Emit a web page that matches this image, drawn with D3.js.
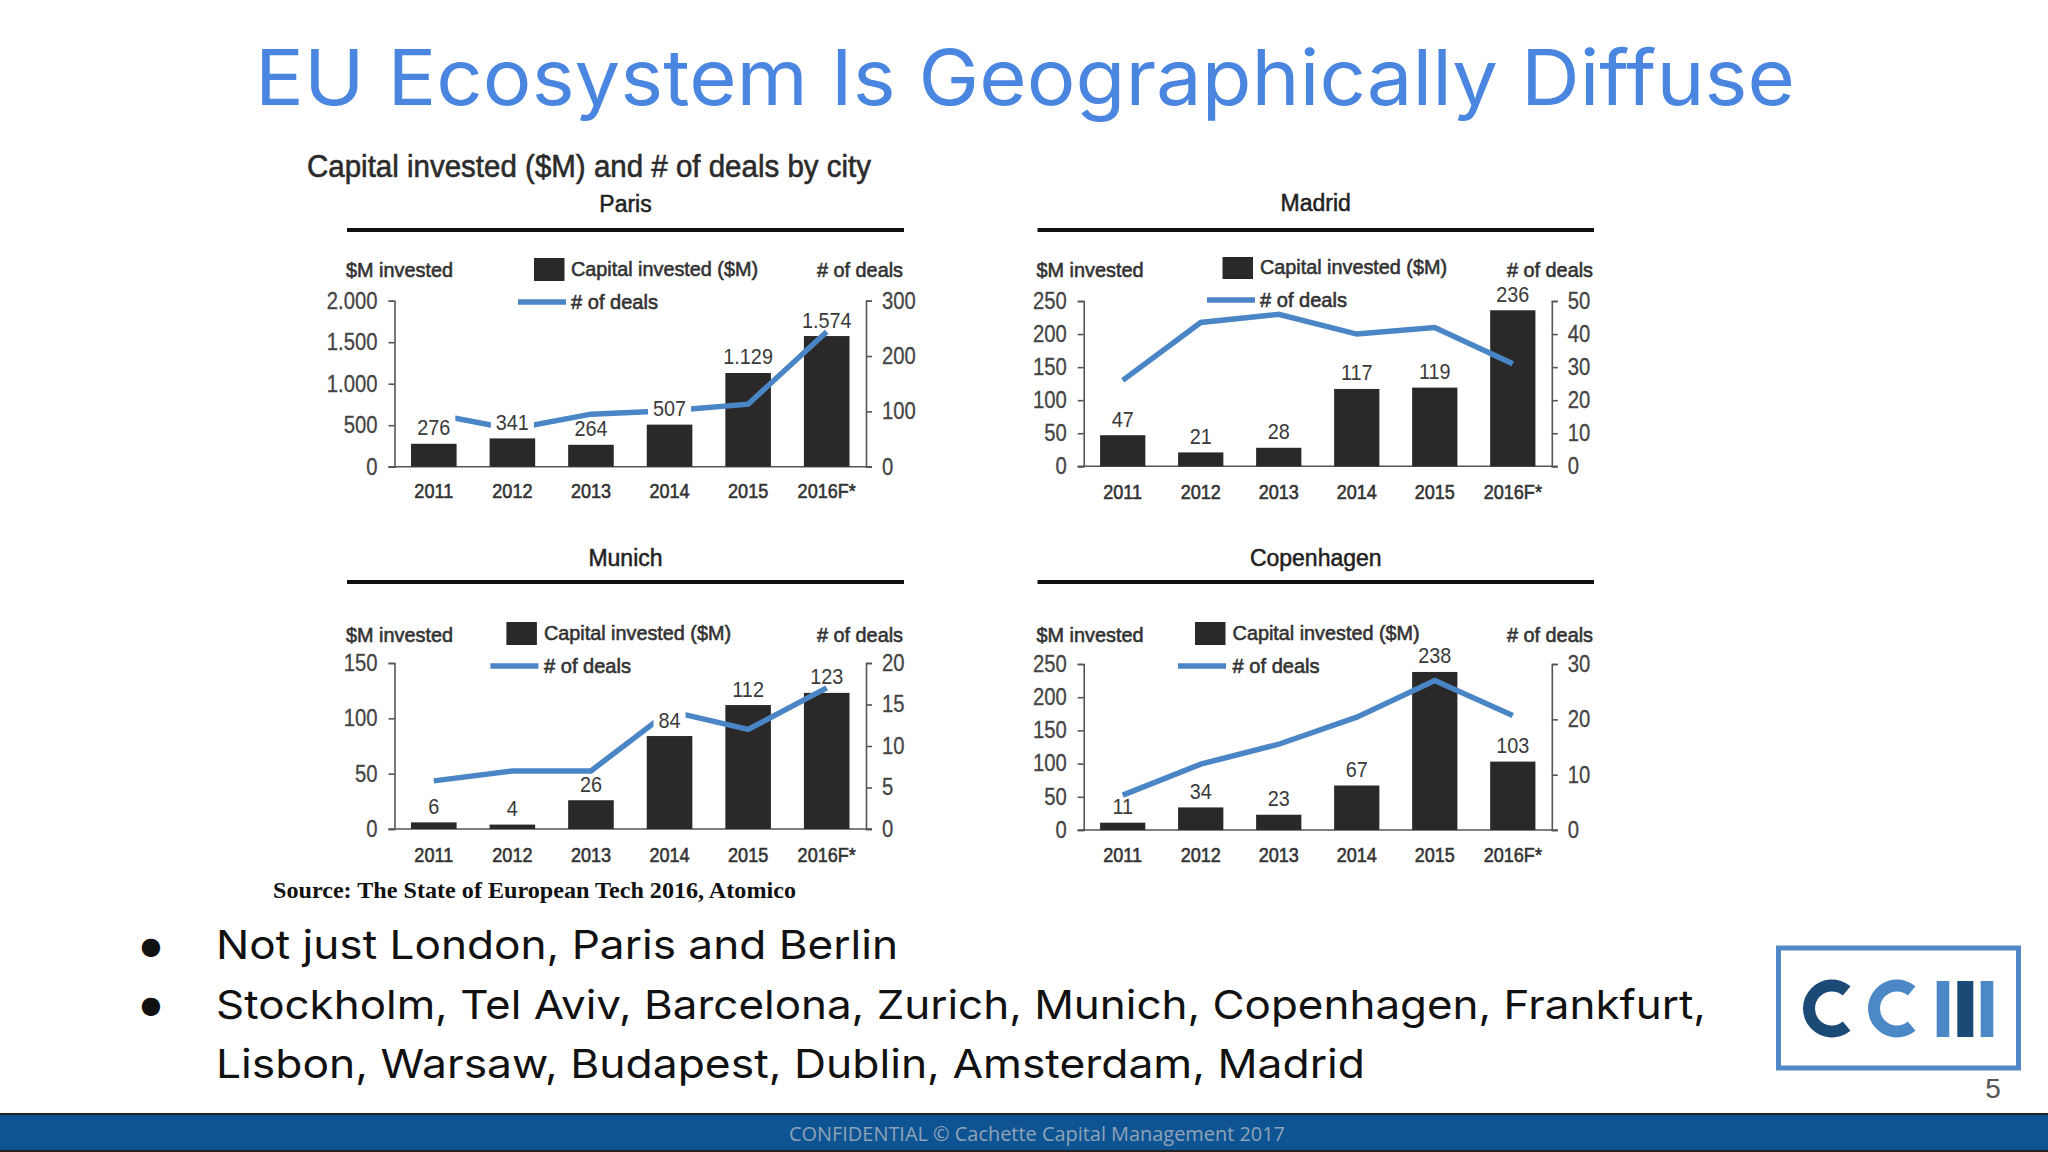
<!DOCTYPE html>
<html><head><meta charset="utf-8">
<script src="https://cdnjs.cloudflare.com/ajax/libs/d3/7.8.5/d3.min.js"></script>
<style>
html,body{margin:0;padding:0;background:#fff}
svg{display:block}
.c text,.c{font-family:"Liberation Sans",Arial,sans-serif}
</style></head><body>
<svg id="s" width="2048" height="1152"></svg>
<script>
const years = ["2011","2012","2013","2014","2015","2016F*"];

const parisCapital = [276,341,264,507,1129,1574];
const parisDeals = [95,68,95,101,113,244];
const parisLeftTicks = [0,500,1000,1500,2000];
const parisLeftLabels = ["0","500","1.000","1.500","2.000"];
const parisRightTicks = [0,100,200,300];
const parisValueLabels = ["276","341","264","507","1.129","1.574"];
const parisKnockouts = ["276","341","507"];

const madridCapital = [47,21,28,117,119,236];
const madridDeals = [26,43.5,46,40,42,31];
const madridLeftTicks = [0,50,100,150,200,250];
const madridRightTicks = [0,10,20,30,40,50];

const munichCapital = [6,4,26,84,112,123];
const munichDeals = [5.8,7,7,14.2,12,17];
const munichLeftTicks = [0,50,100,150];
const munichRightTicks = [0,5,10,15,20];
const munichKnockouts = ["84"];

const copenhagenCapital = [11,34,23,67,238,103];
const copenhagenDeals = [6.3,11.9,15.5,20.4,27,20.7];
const copenhagenLeftTicks = [0,50,100,150,200,250];
const copenhagenRightTicks = [0,10,20,30];

const titleText = "EU Ecosystem Is Geographically Diffuse";
const chartTitle = "Capital invested ($M) and # of deals by city";
const sourceText = "Source: The State of European Tech 2016, Atomico";
const bulletLines = ["Not just London, Paris and Berlin",
  "Stockholm, Tel Aviv, Barcelona, Zurich, Munich, Copenhagen, Frankfurt,",
  "Lisbon, Warsaw, Budapest, Dublin, Amsterdam, Madrid"];
const footerText = "CONFIDENTIAL \u00a9 Cachette Capital Management 2017";

const BAR="#2a2829", LINE="#4a86c6", TXT="#333", AX="#555";
const svg = d3.select("#s");
const fit=(sel,w)=>sel.attr("textLength",w).attr("lengthAdjust","spacingAndGlyphs");
const cond=(sel,f)=>sel.each(function(){
  const n=this.getComputedTextLength();
  d3.select(this).attr("textLength",n*f).attr("lengthAdjust","spacingAndGlyphs");
});
const heavy=(sel,c,w)=>sel.attr("fill",c).attr("stroke",c).attr("stroke-width",w);

// Title
fit(svg.append("text").attr("x",255).attr("y",105).attr("fill","#4a86e0")
  .attr("font-family","Inter").attr("font-size",77).text(titleText),1540);

const chart = svg.append("g").attr("class","c");
fit(heavy(chart.append("text").attr("x",307).attr("y",176.5).attr("font-size",31).text(chartTitle),"#2b2b2b",0.6),564);

const panels = [
 {city:"Paris",cap:parisCapital,deals:parisDeals,lMax:2000,rMax:300,lt:parisLeftTicks,ll:parisLeftLabels,rt:parisRightTicks,vl:parisValueLabels,ko:parisKnockouts,
  l:394.5,r:866,t:300.7,b:466.7,rl:347,rr:904,ry:230,ty:212,swX:534,swY:258,swH:23,txX:571,txY:276,lgX:518,lgY:302,lgTy:309,hY:277,xY:498},
 {city:"Madrid",cap:madridCapital,deals:madridDeals,lMax:250,rMax:50,lt:madridLeftTicks,rt:madridRightTicks,ko:[],
  l:1083.7,r:1551.8,t:301,b:466.3,rl:1037.5,rr:1594,ry:230,ty:211,swX:1222.5,swY:257,swH:22,txX:1260,txY:274,lgX:1207,lgY:300,lgTy:307,hY:277,xY:499},
 {city:"Munich",cap:munichCapital,deals:munichDeals,lMax:150,rMax:20,lt:munichLeftTicks,rt:munichRightTicks,ko:munichKnockouts,
  l:394.5,r:866,t:663,b:829,rl:347,rr:904,ry:582,ty:566,swX:506.4,swY:622,swH:23,txX:544,txY:640,lgX:490.4,lgY:666,lgTy:673,hY:642,xY:862},
 {city:"Copenhagen",cap:copenhagenCapital,deals:copenhagenDeals,lMax:250,rMax:30,lt:copenhagenLeftTicks,rt:copenhagenRightTicks,ko:[],
  l:1083.7,r:1551.8,t:664,b:830,rl:1037.5,rr:1594,ry:582,ty:566,swX:1195,swY:622,swH:23,txX:1232.6,txY:640,lgX:1178,lgY:666,lgTy:673,hY:642,xY:862}
];

panels.forEach(p=>{
  const g = chart.append("g");
  const x = d3.scaleBand().domain(years).range([p.l,p.r]).paddingInner(0.42).paddingOuter(0.21);
  const yL = d3.scaleLinear().domain([0,p.lMax]).range([p.b,p.t]);
  const yR = d3.scaleLinear().domain([0,p.rMax]).range([p.b,p.t]);

  heavy(g.append("text").attr("x",(p.rl+p.rr)/2).attr("y",p.ty).attr("text-anchor","middle")
    .attr("font-size",23).text(p.city),"#222",0.5);
  g.append("line").attr("x1",p.rl).attr("x2",p.rr).attr("y1",p.ry).attr("y2",p.ry)
    .attr("stroke","#111").attr("stroke-width",4);

  fit(heavy(g.append("text").attr("x",p.rl-1).attr("y",p.hY).attr("font-size",20.5).text("$M invested"),TXT,0.6),107);
  fit(heavy(g.append("text").attr("x",p.rr-1).attr("y",p.hY).attr("text-anchor","end").attr("font-size",20.5).text("# of deals"),TXT,0.6),86);

  // legend
  g.append("rect").attr("x",p.swX).attr("y",p.swY).attr("width",30.5).attr("height",p.swH).attr("fill",BAR);
  fit(heavy(g.append("text").attr("x",p.txX).attr("y",p.txY).attr("font-size",20.5).text("Capital invested ($M)"),TXT,0.6),187);
  g.append("line").attr("x1",p.lgX).attr("x2",p.lgX+48).attr("y1",p.lgY).attr("y2",p.lgY).attr("stroke",LINE).attr("stroke-width",5.5);
  fit(heavy(g.append("text").attr("x",p.txX).attr("y",p.lgTy).attr("font-size",20.5).text("# of deals"),TXT,0.6),87);

  // axes
  const axL = d3.axisLeft(yL).tickValues(p.lt).tickSize(6).tickPadding(11)
    .tickFormat((d,i)=>p.ll?p.ll[i]:d);
  const axR = d3.axisRight(yR).tickValues(p.rt).tickSize(6).tickPadding(10);
  const aL = g.append("g").attr("transform",`translate(${p.l},0)`).call(axL);
  const aR = g.append("g").attr("transform",`translate(${p.r},0)`).call(axR);
  [aL,aR].forEach(a=>{
    a.attr("font-family",null);
    a.selectAll("path,line").attr("stroke",AX).attr("stroke-width",1.6);
    const t=a.selectAll("text").attr("font-size",23).attr("fill","#444").attr("stroke","#444").attr("stroke-width",0.3);
    cond(t,0.88);
  });
  const aB = g.append("g").attr("transform",`translate(0,${p.b})`).call(d3.axisBottom(x).tickSize(0));
  aB.attr("font-family",null);
  aB.select("path").remove();
  const xt=aB.selectAll("text").attr("dy",0).attr("y",p.xY-p.b).attr("font-size",21);
  heavy(xt,TXT,0.6);
  cond(xt,0.86);
  g.append("line").attr("x1",p.l-6).attr("x2",p.r+6).attr("y1",p.b).attr("y2",p.b).attr("stroke",AX).attr("stroke-width",1.6);

  // bars
  g.selectAll(".bar").data(p.cap).join("rect").attr("class","bar")
    .attr("x",(d,i)=>x(years[i])).attr("width",x.bandwidth())
    .attr("y",d=>yL(d)).attr("height",d=>yL(0)-yL(d)).attr("fill",BAR);

  // line
  const line = d3.line().x((d,i)=>x(years[i])+x.bandwidth()/2).y(d=>yR(d));
  g.append("path").datum(p.deals).attr("d",line).attr("fill","none").attr("stroke",LINE)
    .attr("stroke-width",5.5).attr("stroke-linejoin","miter");

  // value labels with white knockouts where the label interrupts the line
  const vals=g.selectAll(".val").data(p.cap).join("text").attr("class","val")
    .attr("x",(d,i)=>x(years[i])+x.bandwidth()/2).attr("y",d=>yL(d)-8.5)
    .attr("text-anchor","middle").attr("font-size",22).attr("fill","#3a3a3a")
    .text((d,i)=>p.vl?p.vl[i]:d);
  cond(vals,0.9);
  vals.each(function(d,i){
    const s=p.vl?p.vl[i]:String(d);
    if(!p.ko.includes(s)) return;
    const b=this.getBBox();
    const r=document.createElementNS("http://www.w3.org/2000/svg","rect");
    this.parentNode.insertBefore(r,this);
    d3.select(r).attr("x",b.x-5).attr("y",b.y-5).attr("width",b.width+10).attr("height",b.height+5).attr("fill","#fff");
  });
});

// source
fit(svg.append("text").attr("x",273).attr("y",898).attr("font-family","Liberation Serif").attr("font-weight",700)
  .attr("font-size",23).attr("fill","#111").text(sourceText),523);

// bullets
const bulletEnds=[898,1706,1365], bulletY=[959,1019,1078];
bulletLines.forEach((t,i)=>{
  fit(svg.append("text").attr("x",216).attr("y",bulletY[i]).attr("font-family","Inter").attr("font-size",40)
    .attr("fill","#111").text(t),bulletEnds[i]-216);
});
[954,1013].forEach(y=>svg.append("text").attr("x",151).attr("y",y).attr("text-anchor","middle")
  .attr("font-family","DejaVu Sans").attr("font-size",24).attr("fill","#111").text("\u25cf"));

// logo
const logo=svg.append("g");
logo.append("rect").attr("x",1778.5).attr("y",948).attr("width",240).attr("height",120)
  .attr("fill","none").attr("stroke","#5088c5").attr("stroke-width",5);
const arc=d3.arc().innerRadius(17).outerRadius(29).startAngle(Math.PI*0.78).endAngle(Math.PI*2.22);
logo.append("path").attr("d",arc()).attr("transform","translate(1832,1008.5)").attr("fill","#1a4a75");
logo.append("path").attr("d",arc()).attr("transform","translate(1897,1008.5)").attr("fill","#4d88c6");
[[1936.7,12.6,"#4d88c6"],[1957.3,16,"#1a4a75"],[1980.7,12.6,"#4d88c6"]].forEach(b=>
  logo.append("rect").attr("x",b[0]).attr("y",981).attr("width",b[1]).attr("height",56).attr("fill",b[2]));

// page number + footer
svg.append("text").attr("x",1993).attr("y",1098).attr("text-anchor","middle").attr("font-family","Liberation Sans")
  .attr("font-size",28).attr("fill","#555").text("5");
svg.append("rect").attr("x",0).attr("y",1114).attr("width",2048).attr("height",38).attr("fill","#0f5492");
svg.append("line").attr("x1",0).attr("x2",2048).attr("y1",1114).attr("y2",1114).attr("stroke","#222").attr("stroke-width",2);
svg.append("line").attr("x1",0).attr("x2",2048).attr("y1",1151).attr("y2",1151).attr("stroke","#222").attr("stroke-width",2);
fit(svg.append("text").attr("x",789).attr("y",1141).attr("font-family","Open Sans").attr("font-size",20)
  .attr("fill","#8ea3b8").text(footerText),496);
</script>
</body></html>
